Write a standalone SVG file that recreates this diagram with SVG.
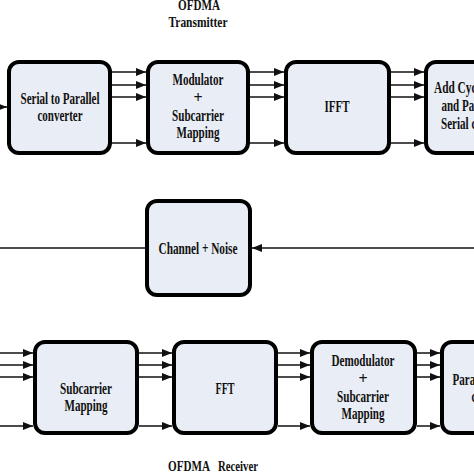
<svg xmlns="http://www.w3.org/2000/svg" width="474" height="474" viewBox="0 0 474 474">
<style>
.box{fill:#e9edf5;stroke:#000;stroke-width:4}
.t{font-family:"Liberation Serif","Times New Roman",serif;font-weight:bold;font-size:16px;fill:#111;text-anchor:middle}
.ti{font-family:"Liberation Serif","Times New Roman",serif;font-weight:bold;font-size:14px;fill:#111;text-anchor:middle}
.c{stroke:#111;stroke-width:1.5;fill:none}
</style>
<defs>
<marker id="ah" markerUnits="userSpaceOnUse" markerWidth="11" markerHeight="9" refX="10" refY="4" orient="auto">
<path d="M0,0 L10,4 L0,8 z" fill="#111"/>
</marker>
</defs>
<g id="titles">
<text class="ti" x="199" y="10" textLength="42" lengthAdjust="spacingAndGlyphs">OFDMA</text>
<text class="ti" x="198" y="27" textLength="59" lengthAdjust="spacingAndGlyphs">Transmitter</text>
<text class="ti" x="189" y="471" textLength="42" lengthAdjust="spacingAndGlyphs">OFDMA</text>
<text class="ti" x="238" y="471" textLength="40" lengthAdjust="spacingAndGlyphs">Receiver</text>
</g>
<g id="connectors">
<line class="c" x1="-5" y1="107" x2="7" y2="107" marker-end="url(#ah)"/>
<line class="c" x1="112" y1="72" x2="146" y2="72" marker-end="url(#ah)"/>
<line class="c" x1="112" y1="85" x2="146" y2="85" marker-end="url(#ah)"/>
<line class="c" x1="112" y1="97" x2="146" y2="97" marker-end="url(#ah)"/>
<line class="c" x1="112" y1="143" x2="146" y2="143" marker-end="url(#ah)"/>
<line class="c" x1="250" y1="72" x2="284" y2="72" marker-end="url(#ah)"/>
<line class="c" x1="250" y1="85" x2="284" y2="85" marker-end="url(#ah)"/>
<line class="c" x1="250" y1="97" x2="284" y2="97" marker-end="url(#ah)"/>
<line class="c" x1="250" y1="143" x2="284" y2="143" marker-end="url(#ah)"/>
<line class="c" x1="391" y1="72" x2="424" y2="72" marker-end="url(#ah)"/>
<line class="c" x1="391" y1="85" x2="424" y2="85" marker-end="url(#ah)"/>
<line class="c" x1="391" y1="97" x2="424" y2="97" marker-end="url(#ah)"/>
<line class="c" x1="391" y1="143" x2="424" y2="143" marker-end="url(#ah)"/>
<line class="c" x1="474" y1="248" x2="252" y2="248" marker-end="url(#ah)"/>
<line class="c" x1="0" y1="248" x2="145" y2="248"/>
<line class="c" x1="0" y1="353" x2="33" y2="353" marker-end="url(#ah)"/>
<line class="c" x1="0" y1="365" x2="33" y2="365" marker-end="url(#ah)"/>
<line class="c" x1="0" y1="377" x2="33" y2="377" marker-end="url(#ah)"/>
<line class="c" x1="0" y1="426" x2="33" y2="426" marker-end="url(#ah)"/>
<line class="c" x1="139" y1="353" x2="172" y2="353" marker-end="url(#ah)"/>
<line class="c" x1="139" y1="365" x2="172" y2="365" marker-end="url(#ah)"/>
<line class="c" x1="139" y1="377" x2="172" y2="377" marker-end="url(#ah)"/>
<line class="c" x1="139" y1="426" x2="172" y2="426" marker-end="url(#ah)"/>
<line class="c" x1="278" y1="353" x2="310" y2="353" marker-end="url(#ah)"/>
<line class="c" x1="278" y1="365" x2="310" y2="365" marker-end="url(#ah)"/>
<line class="c" x1="278" y1="377" x2="310" y2="377" marker-end="url(#ah)"/>
<line class="c" x1="278" y1="426" x2="310" y2="426" marker-end="url(#ah)"/>
<line class="c" x1="417" y1="353" x2="440" y2="353" marker-end="url(#ah)"/>
<line class="c" x1="417" y1="365" x2="440" y2="365" marker-end="url(#ah)"/>
<line class="c" x1="417" y1="377" x2="440" y2="377" marker-end="url(#ah)"/>
<line class="c" x1="417" y1="426" x2="440" y2="426" marker-end="url(#ah)"/>
</g>
<g id="s2p">
<rect class="box" x="9" y="62" width="101" height="91" rx="10"/>
<text class="t" x="60" y="104" textLength="79" lengthAdjust="spacingAndGlyphs">Serial to Parallel</text>
<text class="t" x="60" y="121" textLength="45" lengthAdjust="spacingAndGlyphs">converter</text>
</g>
<g id="modulator">
<rect class="box" x="148" y="62" width="100" height="91" rx="10"/>
<text class="t" x="198" y="85" textLength="51" lengthAdjust="spacingAndGlyphs">Modulator</text>
<text class="t" x="198" y="103">+</text>
<text class="t" x="198" y="121" textLength="52" lengthAdjust="spacingAndGlyphs">Subcarrier</text>
<text class="t" x="198" y="138" textLength="43" lengthAdjust="spacingAndGlyphs">Mapping</text>
</g>
<g id="ifft">
<rect class="box" x="286" y="62" width="103" height="91" rx="10"/>
<text class="t" x="337" y="112" textLength="25" lengthAdjust="spacingAndGlyphs">IFFT</text>
</g>
<g id="cp">
<rect class="box" x="426" y="62" width="120" height="91" rx="10"/>
<text class="t" x="477" y="93" textLength="86" lengthAdjust="spacingAndGlyphs">Add Cyclic Prefix</text>
<text class="t" x="476" y="111" textLength="69" lengthAdjust="spacingAndGlyphs">and Parallel to</text>
<text class="t" x="479" y="129" textLength="76" lengthAdjust="spacingAndGlyphs">Serial converter</text>
</g>
<g id="channel">
<rect class="box" x="147" y="201" width="103" height="94" rx="10"/>
<text class="t" x="198" y="254" textLength="79" lengthAdjust="spacingAndGlyphs">Channel + Noise</text>
</g>
<g id="submap">
<rect class="box" x="35" y="342" width="102" height="91" rx="10"/>
<text class="t" x="86" y="394" textLength="52" lengthAdjust="spacingAndGlyphs">Subcarrier</text>
<text class="t" x="86" y="411" textLength="43" lengthAdjust="spacingAndGlyphs">Mapping</text>
</g>
<g id="fft">
<rect class="box" x="174" y="342" width="102" height="91" rx="10"/>
<text class="t" x="225" y="394" textLength="19" lengthAdjust="spacingAndGlyphs">FFT</text>
</g>
<g id="demod">
<rect class="box" x="312" y="342" width="103" height="91" rx="10"/>
<text class="t" x="363" y="366" textLength="63" lengthAdjust="spacingAndGlyphs">Demodulator</text>
<text class="t" x="363" y="384">+</text>
<text class="t" x="363" y="402" textLength="52" lengthAdjust="spacingAndGlyphs">Subcarrier</text>
<text class="t" x="363" y="419" textLength="43" lengthAdjust="spacingAndGlyphs">Mapping</text>
</g>
<g id="p2s">
<rect class="box" x="442" y="342" width="120" height="91" rx="10"/>
<text class="t" x="492" y="385" textLength="79" lengthAdjust="spacingAndGlyphs">Parallel to Serial</text>
<text class="t" x="494" y="402" textLength="45" lengthAdjust="spacingAndGlyphs">converter</text>
</g>
</svg>
